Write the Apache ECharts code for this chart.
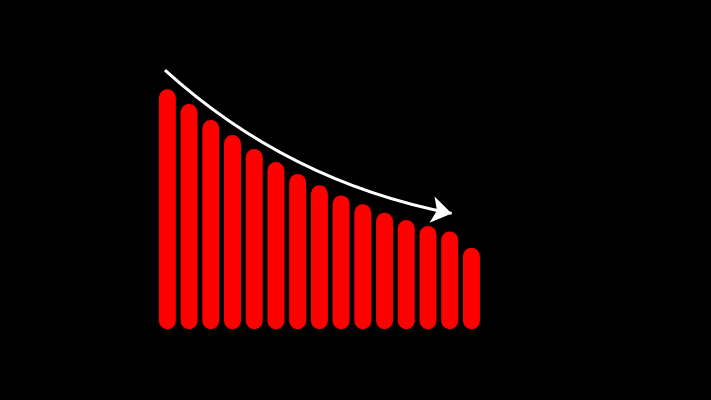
<!DOCTYPE html>
<html>
<head>
<meta charset="utf-8">
<script src="https://cdn.jsdelivr.net/npm/echarts@6/dist/echarts.min.js"></script>
<style>
html,body{margin:0;padding:0;background:#000;}
#chart{width:711px;height:400px;}
</style>
</head>
<body>
<div id="chart"></div>
<script>
const categories = ['1','2','3','4','5','6','7','8','9','10','11','12','13','14','15'];
const values = [100, 93.9, 87.2, 81, 75.1, 69.7, 64.7, 60, 55.8, 52.1, 48.6, 45.5, 43, 40.7, 34];
const arrowStart = [-0.11, 108];
const arrowEnd = [13.09, 48.3];

const chart = echarts.init(document.getElementById('chart'));
chart.setOption({
  backgroundColor: '#000000',
  animation: false,
  grid: { left: 156.5, right: 228.7, top: 89.3, bottom: 70.7 },
  xAxis: [
    { type: 'category', data: categories, show: false },
    { type: 'value', min: -0.5, max: 14.5, show: false }
  ],
  yAxis: { type: 'value', min: 0, max: 100, show: false },
  series: [
    {
      type: 'bar',
      data: values,
      barWidth: 17,
      itemStyle: { color: '#ff0000', borderRadius: 8.5 }
    },
    {
      type: 'lines',
      coordinateSystem: 'cartesian2d',
      xAxisIndex: 1,
      yAxisIndex: 0,
      clip: false,
      symbol: ['none', 'arrow'],
      symbolSize: [15, 20],
      lineStyle: { color: '#ffffff', width: 3, curveness: -0.14, opacity: 1 },
      data: [{ coords: [arrowStart, arrowEnd] }]
    }
  ]
});
</script>
</body>
</html>
